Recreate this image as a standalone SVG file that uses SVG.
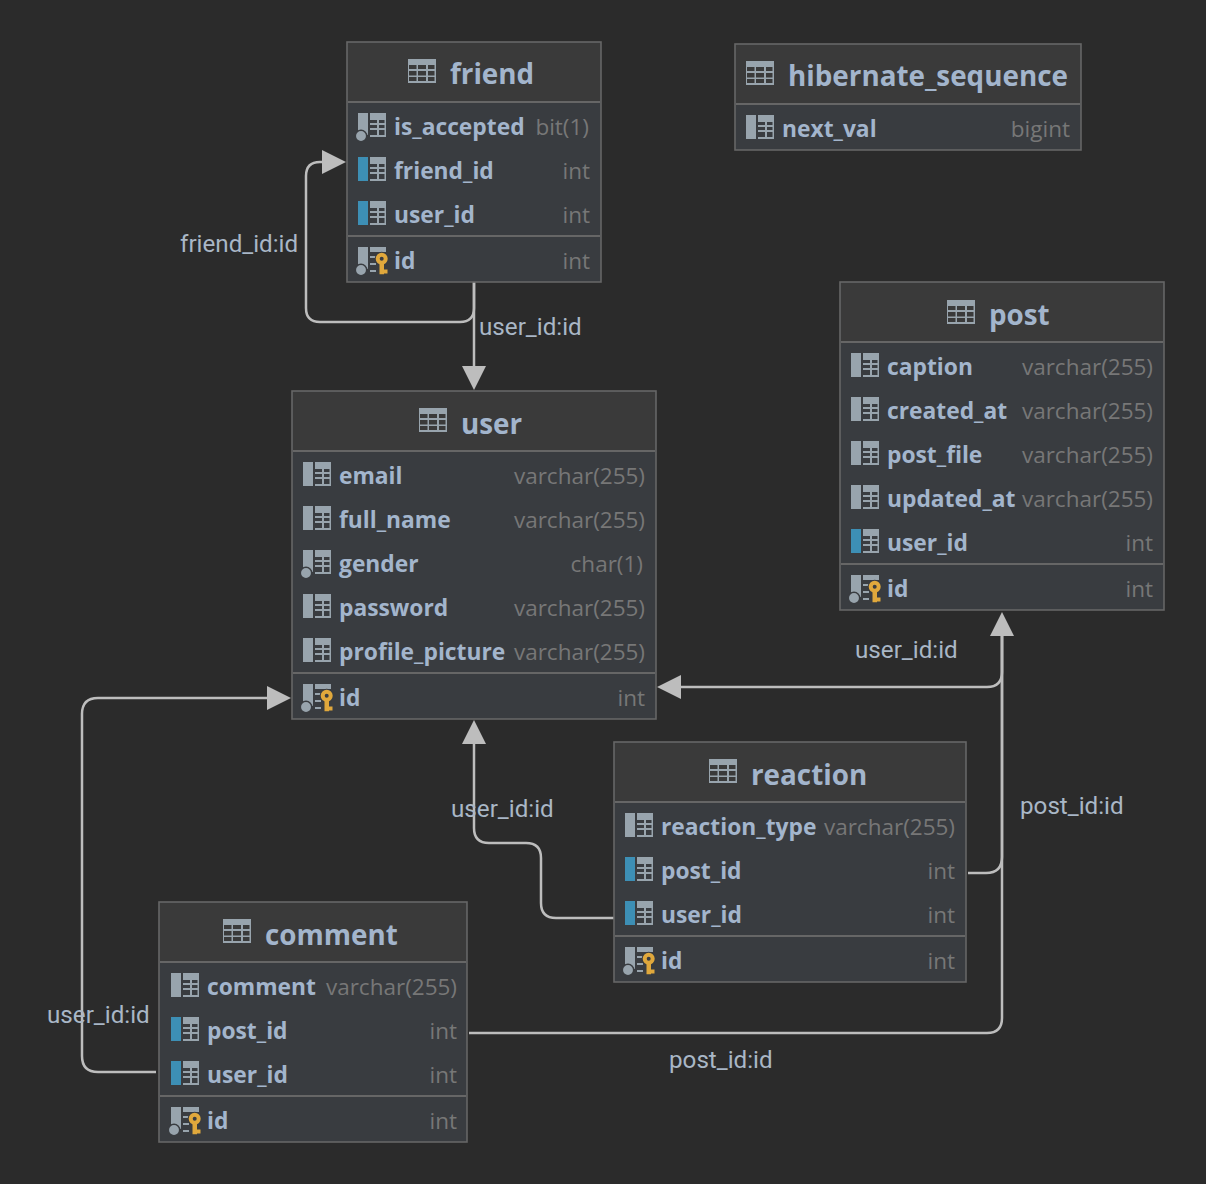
<svg xmlns="http://www.w3.org/2000/svg" width="1206" height="1184" viewBox="0 0 1206 1184">
<style>
.box{fill:#393c40;stroke:#666;stroke-width:1.6}
.head{fill:#3a3a3a}
.sep{stroke:#666;stroke-width:2.2;fill:none}
.title{font:700 27.8px "Open Sans",sans-serif;fill:#a3b5cc}
.name{font:700 22.8px "Open Sans",sans-serif;fill:#a3b5cc}
.type{font:400 22.5px "Open Sans",sans-serif;fill:#777;text-anchor:end}
.lbl{font:400 24.2px "Roboto",sans-serif;fill:#a9b7c6}
.c{fill:none;stroke:#bdbdbd;stroke-width:2.5}
.a{fill:#bdbdbd}
.ic{fill:#98a4ad}
.cell{fill:#393c40}
.cellh{fill:#3a3a3a}
.ring{fill:#98a4ad;stroke:#393c40;stroke-width:1.5}
.key{fill:#e0a83c}
</style>
<defs>
<g id="tbl"><path class="ic" d="M0 0h28v24H0z"/><path class="cellh" d="M1 6h7.500v4H1zM10 6h8v4h-8zM20 6h6.500v4H20zM1 12h7.500v4.500H1zM10 12h8v4.500h-8zM20 12h6.500v4.500H20zM1 18h7.500v4H1zM10 18h8v4h-8zM20 18h6.500v4H20z"/></g>
<g id="grid"><path class="ic" d="M12 0h16v24H12z"/><path class="cell" d="M12 7h7v3h-7zM21 7h5.500v3H21zM12 12h7v3h-7zM21 12h5.500v3H21zM12 17h7v5h-7zM21 17h5.500v5H21z"/></g>
<g id="col"><path class="ic" d="M0 0h10v24H0z"/><use href="#grid"/></g>
<g id="fk"><path fill="#3d8fb5" d="M0 0h10v24H0z"/><use href="#grid"/></g>
<g id="nul"><path class="ic" d="M0 0h10v22H0z"/><circle class="ring" cx="3" cy="23" r="5.700"/><use href="#grid"/></g>
<g id="pk"><path class="ic" d="M0 0h10v22H0z"/><circle class="ring" cx="3" cy="23" r="5.700"/><path class="ic" d="M12 0h16v5H12zM12 9h6v2h-6zM12 16h6v2h-6zM12 23h6v2h-6z"/><circle cx="23.700" cy="11.700" r="7" fill="#393c40"/><circle cx="23.700" cy="11.700" r="4" fill="none" stroke="#e0a83c" stroke-width="4"/><path class="key" d="M21.500 16h4.500v11.300h-4.500zM26 22.500h3.500v4H26z"/></g>
</defs>
<rect width="1206" height="1184" fill="#2b2b2b"/>
<g id="connectors">
<path class="c" d="M474 282V366"/><path class="a" d="M474 390l-12-24h24z"/>
<path class="c" d="M474 282V308q0 14-14 14H320q-14 0-14-14V176q0-14 14-14h4"/><path class="a" d="M346 162l-24-12v24z"/>
<path class="c" d="M1002 636V672q0 15-15 15H680"/><path class="a" d="M1002 612l-12 24h24z"/><path class="a" d="M657 687l24-12v24z"/>
<path class="c" d="M614 918H556q-15 0-15-15V858q0-15-15-15H489q-15 0-15-15V744"/><path class="a" d="M474 720l-12 24h24z"/>
<path class="c" d="M968 873h18q16 0 16-16V636"/>
<path class="c" d="M469 1033H987q15 0 15-15V636"/>
<path class="c" d="M156 1072H98q-16 0-16-16V714q0-16 16-16H268"/><path class="a" d="M291 698l-24-12v24z"/>
</g>
<g id="edge-labels">
<text class="lbl" x="180" y="252">friend_id:id</text>
<text class="lbl" x="479" y="335">user_id:id</text>
<text class="lbl" x="855" y="658">user_id:id</text>
<text class="lbl" x="451" y="817">user_id:id</text>
<text class="lbl" x="1020" y="814">post_id:id</text>
<text class="lbl" x="47" y="1023">user_id:id</text>
<text class="lbl" x="669" y="1068">post_id:id</text>
</g>
<g id="friend">
<rect class="box" x="347" y="42" width="254" height="240"/><rect class="head" x="348" y="43" width="252" height="59"/>
<path class="sep" d="M348 102H600M348 236H600"/>
<use href="#tbl" x="408" y="59"/><text class="title" x="450" y="84">friend</text>
<use href="#nul" x="358" y="113"/><text class="name" x="394" y="135">is_accepted</text><text class="type" x="589" y="135">bit(1)</text>
<use href="#fk" x="358" y="157"/><text class="name" x="394" y="179">friend_id</text><text class="type" x="590" y="179">int</text>
<use href="#fk" x="358" y="201"/><text class="name" x="394" y="223">user_id</text><text class="type" x="590" y="223">int</text>
<use href="#pk" x="358" y="247"/><text class="name" x="394" y="269">id</text><text class="type" x="590" y="269">int</text>
</g>
<g id="hibernate_sequence">
<rect class="box" x="735" y="44" width="346" height="106"/><rect class="head" x="736" y="45" width="344" height="59"/>
<path class="sep" d="M736 104H1080"/>
<use href="#tbl" x="746" y="61"/><text class="title" x="788" y="86">hibernate_sequence</text>
<use href="#col" x="746" y="115"/><text class="name" x="782" y="137">next_val</text><text class="type" x="1070" y="137">bigint</text>
</g>
<g id="post">
<rect class="box" x="840" y="282" width="324" height="328"/><rect class="head" x="841" y="283" width="322" height="59"/>
<path class="sep" d="M841 342H1163M841 564H1163"/>
<use href="#tbl" x="947" y="300"/><text class="title" x="989" y="325">post</text>
<use href="#col" x="851" y="353"/><text class="name" x="887" y="375">caption</text><text class="type" x="1153" y="375">varchar(255)</text>
<use href="#col" x="851" y="397"/><text class="name" x="887" y="419">created_at</text><text class="type" x="1153" y="419">varchar(255)</text>
<use href="#col" x="851" y="441"/><text class="name" x="887" y="463">post_file</text><text class="type" x="1153" y="463">varchar(255)</text>
<use href="#col" x="851" y="485"/><text class="name" x="887" y="507">updated_at</text><text class="type" x="1153" y="507">varchar(255)</text>
<use href="#fk" x="851" y="529"/><text class="name" x="887" y="551">user_id</text><text class="type" x="1153" y="551">int</text>
<use href="#pk" x="851" y="575"/><text class="name" x="887" y="597">id</text><text class="type" x="1153" y="597">int</text>
</g>
<g id="user">
<rect class="box" x="292" y="391" width="364" height="328"/><rect class="head" x="293" y="392" width="362" height="59"/>
<path class="sep" d="M293 451H655M293 673H655"/>
<use href="#tbl" x="419" y="408"/><text class="title" x="461" y="434">user</text>
<use href="#col" x="303" y="462"/><text class="name" x="339" y="484">email</text><text class="type" x="645" y="484">varchar(255)</text>
<use href="#col" x="303" y="506"/><text class="name" x="339" y="528">full_name</text><text class="type" x="645" y="528">varchar(255)</text>
<use href="#nul" x="303" y="550"/><text class="name" x="339" y="572">gender</text><text class="type" x="643" y="572">char(1)</text>
<use href="#col" x="303" y="594"/><text class="name" x="339" y="616">password</text><text class="type" x="645" y="616">varchar(255)</text>
<use href="#col" x="303" y="638"/><text class="name" x="339" y="660">profile_picture</text><text class="type" x="645" y="660">varchar(255)</text>
<use href="#pk" x="303" y="684"/><text class="name" x="339" y="706">id</text><text class="type" x="645" y="706">int</text>
</g>
<g id="reaction">
<rect class="box" x="614" y="742" width="352" height="240"/><rect class="head" x="615" y="743" width="350" height="59"/>
<path class="sep" d="M615 802H965M615 936H965"/>
<use href="#tbl" x="709" y="759"/><text class="title" x="751" y="785">reaction</text>
<use href="#col" x="625" y="813"/><text class="name" x="661" y="835">reaction_type</text><text class="type" x="955" y="835">varchar(255)</text>
<use href="#fk" x="625" y="857"/><text class="name" x="661" y="879">post_id</text><text class="type" x="955" y="879">int</text>
<use href="#fk" x="625" y="901"/><text class="name" x="661" y="923">user_id</text><text class="type" x="955" y="923">int</text>
<use href="#pk" x="625" y="947"/><text class="name" x="661" y="969">id</text><text class="type" x="955" y="969">int</text>
</g>
<g id="comment">
<rect class="box" x="159" y="902" width="308" height="240"/><rect class="head" x="160" y="903" width="306" height="59"/>
<path class="sep" d="M160 962H466M160 1096H466"/>
<use href="#tbl" x="223" y="919"/><text class="title" x="265" y="945">comment</text>
<use href="#col" x="171" y="973"/><text class="name" x="207" y="995">comment</text><text class="type" x="457" y="995">varchar(255)</text>
<use href="#fk" x="171" y="1017"/><text class="name" x="207" y="1039">post_id</text><text class="type" x="457" y="1039">int</text>
<use href="#fk" x="171" y="1061"/><text class="name" x="207" y="1083">user_id</text><text class="type" x="457" y="1083">int</text>
<use href="#pk" x="171" y="1107"/><text class="name" x="207" y="1129">id</text><text class="type" x="457" y="1129">int</text>
</g>
</svg>
